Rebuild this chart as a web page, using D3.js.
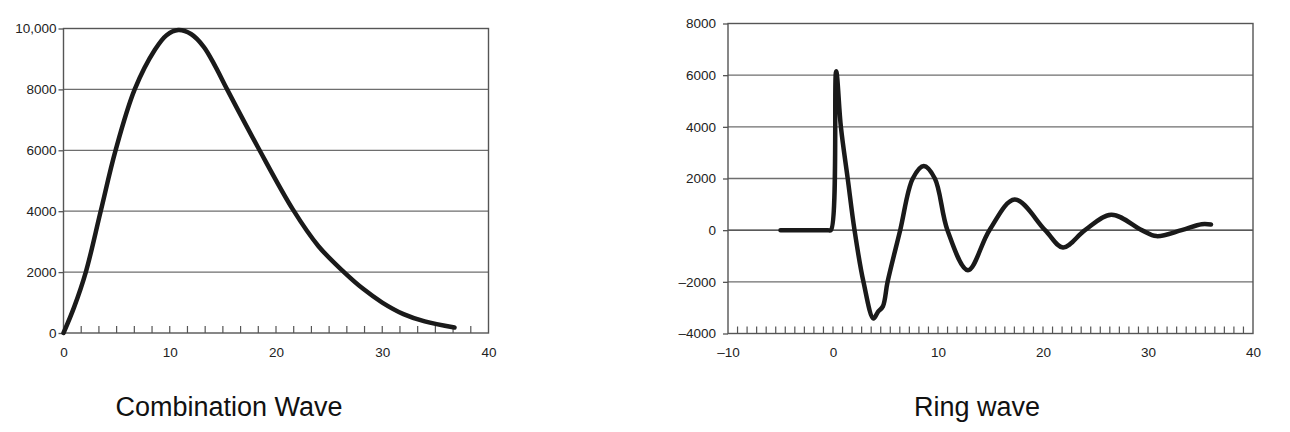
<!DOCTYPE html>
<html lang="en">
<head>
    <meta charset="UTF-8">
    <title>Combination Wave / Ring wave</title>
    <script src="https://cdn.jsdelivr.net/npm/d3@7"></script>
    <style>
        body { margin: 0; background: #fff; }
        svg text { font-family: "Liberation Sans", Arial, Helvetica, sans-serif; }
        .tick text { fill: #222; font-size: 13.5px; }
        .title { fill: #111; font-size: 27px; }
    </style>
</head>
<body>
    <svg id="chart" width="1290" height="432"></svg>

    <script>
        // --- data ---
        // combination wave
        const comboX = [0, 1.0, 2.1, 3.5, 4.9, 6.7, 8.6, 9.7, 10.8, 12.0, 13.2, 14.3, 15.4, 18.3, 21.6, 24.0, 26.4, 28.2, 30.0, 32.0, 34.0, 36.8];
        const comboY = [0, 850, 2000, 4000, 6000, 8000, 9300, 9780, 9950, 9820, 9400, 8750, 8000, 6100, 4050, 2850, 2000, 1450, 1000, 620, 380, 180];
        const comboXTicks = [0, 10, 20, 30, 40];
        const comboYTicks = [0, 2000, 4000, 6000, 8000, 10000];

        // ring wave
        const ringX = [-5, -2, -0.5, -0.2, 0.3, 0.75, 1.4, 2.05, 2.9, 3.85, 4.3, 4.75, 5.2, 6.4, 7.6, 8.65, 9.7, 10.9, 12.85, 14.9, 17.3, 20.2, 21.9, 24.0, 26.5, 29.4, 30.8, 33.2, 35.1, 36.0];
        const ringY = [0, 0, 0, 0, 6150, 4000, 2000, 0, -2000, -3420, -3150, -2950, -2000, 0, 2000, 2480, 2000, 0, -1550, 0, 1190, 0, -670, 0, 600, 0, -230, 0, 230, 220];
        const ringXTicks = [-10, 0, 10, 20, 30, 40];
        const ringYTicks = [-4000, -2000, 0, 2000, 4000, 6000, 8000];

        const titles = ['Combination Wave', 'Ring wave'];

        const svg = d3.select('#chart');

        function dash(v) {
            return String(v).replace('-', '\u2013');
        }

        function drawPanel(opt) {
            const x = d3.scaleLinear().domain(opt.xDomain).range(opt.xRange);
            const y = d3.scaleLinear().domain(opt.yDomain).range(opt.yRange);
            const g = svg.append('g');

            // horizontal grid lines
            g.selectAll('line.grid')
                .data(opt.yTicks.filter(d => d !== opt.yDomain[0] && d !== opt.yDomain[1]))
                .join('line')
                .attr('class', 'grid')
                .attr('x1', x(opt.xDomain[0]))
                .attr('x2', x(opt.xDomain[1]))
                .attr('y1', d => y(d))
                .attr('y2', d => y(d))
                .attr('stroke', d => d === 0 ? '#222' : '#6e6e6e')
                .attr('stroke-width', 1.3);

            // small ticks standing on the bottom edge
            g.selectAll('line.minor')
                .data(opt.minorTicks)
                .join('line')
                .attr('class', 'minor')
                .attr('x1', d => x(d))
                .attr('x2', d => x(d))
                .attr('y1', y(opt.yDomain[0]))
                .attr('y2', y(opt.yDomain[0]) - 7)
                .attr('stroke', '#555')
                .attr('stroke-width', 1.2);

            // frame
            g.append('rect')
                .attr('x', x(opt.xDomain[0]))
                .attr('y', y(opt.yDomain[1]))
                .attr('width', x(opt.xDomain[1]) - x(opt.xDomain[0]))
                .attr('height', y(opt.yDomain[0]) - y(opt.yDomain[1]))
                .attr('fill', 'none')
                .attr('stroke', '#555')
                .attr('stroke-width', 1.4);

            // axes
            const yAxis = g.append('g')
                .attr('transform', `translate(${x(opt.xDomain[0])},0)`)
                .call(d3.axisLeft(y).tickValues(opt.yTicks).tickSize(5)
                    .tickPadding(opt.yPad).tickFormat(opt.yFormat));
            yAxis.select('.domain').remove();
            yAxis.selectAll('.tick line').attr('stroke', '#555').attr('stroke-width', 1.3);

            const xAxis = g.append('g')
                .attr('transform', `translate(0,${y(opt.yDomain[0])})`)
                .call(d3.axisBottom(x).tickValues(opt.xTicks).tickSize(0)
                    .tickPadding(14).tickFormat(dash));
            xAxis.select('.domain').remove();

            // curve
            const pts = opt.xs.map((v, i) => [v, opt.ys[i]]);
            g.append('path')
                .datum(pts)
                .attr('fill', 'none')
                .attr('stroke', '#1a1a1a')
                .attr('stroke-width', 4.5)
                .attr('stroke-linecap', 'round')
                .attr('stroke-linejoin', 'round')
                .attr('d', d3.line()
                    .x(d => x(d[0]))
                    .y(d => y(d[1]))
                    .curve(d3.curveCatmullRom.alpha(0.5)));

            // title under the panel
            svg.append('text')
                .attr('class', 'title')
                .attr('x', opt.titleX)
                .attr('y', 416)
                .attr('text-anchor', 'middle')
                .text(opt.title);
        }

        drawPanel({
            xs: comboX, ys: comboY,
            xDomain: [0, 40], xRange: [63.5, 488.5],
            yDomain: [0, 10000], yRange: [333, 28.5],
            xTicks: comboXTicks, yTicks: comboYTicks,
            minorTicks: d3.range(1, 24).map(i => i * 5 / 3),
            yFormat: d => d >= 10000 ? d3.format(',')(d) : String(d),
            yPad: 2,
            title: titles[0], titleX: 229
        });

        drawPanel({
            xs: ringX, ys: ringY,
            xDomain: [-10, 40], xRange: [728, 1253],
            yDomain: [-4000, 8000], yRange: [333.5, 23.5],
            xTicks: ringXTicks, yTicks: ringYTicks,
            minorTicks: d3.range(1, 55).map(i => -10 + i * 10 / 11),
            yFormat: dash,
            yPad: 7,
            title: titles[1], titleX: 977
        });
    </script>
</body>
</html>
